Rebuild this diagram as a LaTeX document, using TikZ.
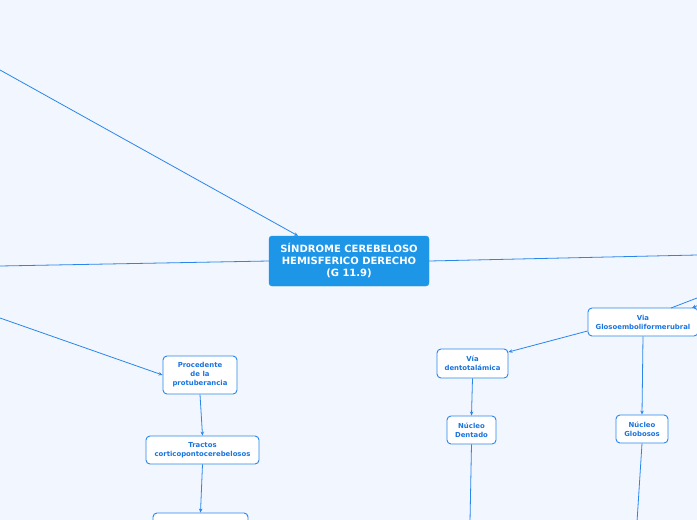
\documentclass[tikz,border=0pt]{standalone}
\usepackage{fontspec}
\setmainfont{DejaVu Sans}
\usetikzlibrary{arrows.meta}
\definecolor{bgc}{HTML}{F2F6FE}
\definecolor{mainc}{HTML}{1E96E8}
\definecolor{linec}{HTML}{2A86EA}
\definecolor{txtc}{HTML}{1A74DE}
\tikzset{
  x=1pt,y=-1pt,
  mainbox/.style={draw=mainc,fill=mainc,rounded corners=3pt,text=white,font=\bfseries\fontsize{10}{12}\selectfont,align=center,minimum width=160pt,minimum height=50pt,inner sep=0pt},
  subbox/.style={draw=linec,line width=0.9pt,fill=white,rounded corners=4pt,text=txtc,font=\bfseries\fontsize{6.9}{9}\selectfont,align=center,inner sep=0pt},
  conn/.style={draw=linec,line width=0.8pt},
  arr/.style={conn,-{Stealth[length=4pt,width=3.5pt]}}
}
\begin{document}
\begin{tikzpicture}
\fill[bgc] (0,0) rectangle (697,520);
\useasboundingbox (0,0) rectangle (697,520);
\clip (0,0) rectangle (697,520);

\node[mainbox] (central) at (349,261) {SÍNDROME CEREBELOSO\\HEMISFERICO DERECHO\\(G 11.9)};

\node[subbox,minimum width=74pt,minimum height=38pt] (proc) at (200,375) {Procedente\\de la\\protuberancia};
\node[subbox,minimum width=113pt,minimum height=28pt] (tract) at (202.5,450) {Tractos\\corticopontocerebelosos};
\node[subbox,minimum width=95pt,minimum height=30pt] (bottom) at (200.5,528) {};

\node[subbox,minimum width=110pt,minimum height=28pt] (glos) at (643,322) {Via\\Glosoemboliformerubral};
\node[subbox,minimum width=71pt,minimum height=29pt] (dento) at (472.5,363.5) {Vía\\dentotalámica};
\node[subbox,minimum width=49pt,minimum height=28pt] (dent) at (471.5,430) {Núcleo\\Dentado};
\node[subbox,minimum width=52pt,minimum height=28pt] (glob) at (642,429) {Núcleo\\Globosos};

\coordinate (tl) at (0,70);
\coordinate (ml) at (0,266);
\coordinate (bl) at (0,318);
\coordinate (mr) at (697,255);
\coordinate (r1) at (697,298);
\coordinate (r2) at (703,303);
\coordinate (dd) at (470,522);
\coordinate (gd) at (637,522);

\draw[arr] (tl) -- (central.north west -| 298,0);
\draw[conn] (ml) -- (central.west);
\draw[conn] (central.east) -- (mr);
\draw[arr] (bl) -- (proc.west);
\draw[arr] (proc.south) -- (tract.north);
\draw[arr] (tract.south) -- (bottom.north);
\draw[conn] (r1) -- (671,308);
\draw[arr] (r2) -- (692,308);
\draw[arr] (glos.west |- 0,331) -- (dento.east |- 0,352);
\draw[arr] (glos.south) -- (glob.north);
\draw[arr] (dento.south) -- (dent.north);
\draw[conn] (dent.south) -- (dd);
\draw[conn] (glob.south) -- (gd);
\end{tikzpicture}
\end{document}
